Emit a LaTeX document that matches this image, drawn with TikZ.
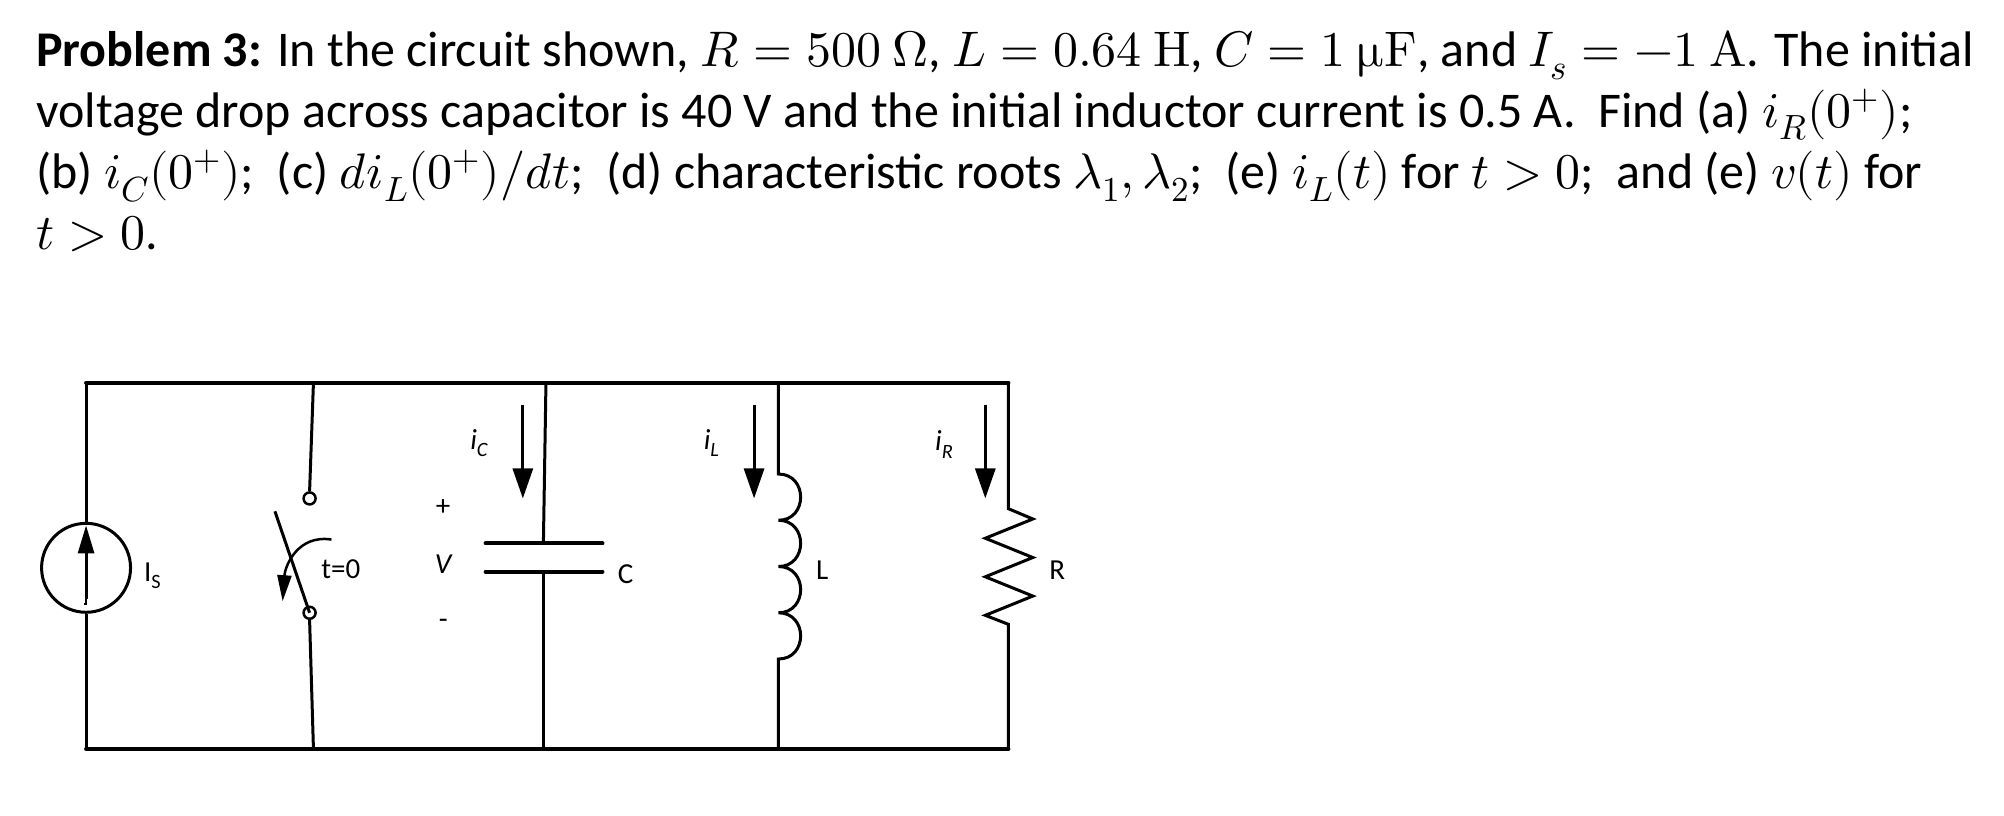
\documentclass[tikz,border=0pt]{standalone}
\usepackage{fontspec}
\usepackage{unicode-math}
\setmainfont{Carlito}
\setmathfont{Latin Modern Math}
\usetikzlibrary{arrows.meta}
\begin{document}
\begin{tikzpicture}[x=1.285pt,y=-1.285pt,
  wire/.style={line width=4pt,line cap=round},
  thin/.style={line width=3pt},
  lab/.style={font=\fontsize{29}{30}\selectfont,inner sep=0pt},
  txt/.style={anchor=base west,inner sep=0pt,font=\fontsize{50}{56}\selectfont},
  curarrow/.style={line width=3pt,-{Triangle[length=30pt,width=20pt]}}]
\useasboundingbox (0,0) rectangle (1560,635);
% text
\node[txt] (t1) at (28,52) {\textbf{Problem 3:} In the circuit shown, $R=500\ \upOmega$, $L=0.64\ \symup{H}$, $C=1\ \upmu\symup{F}$, and $I_s=-1\ \symup{A}$. The initial};
\node[txt] (t2) at (28,99) {voltage drop across capacitor is 40 V and the initial inductor current is 0.5 A.\ \ Find (a) $i_R(0^+)$;};
\node[txt] (t3) at (28,147) {(b) $i_C(0^+)$;\ \ (c) $di_L(0^+)/dt$;\ \ (d) characteristic roots $\lambda_1,\lambda_2$;\ \ (e) $i_L(t)$ for $t>0$;\ \ and (e) $v(t)$ for};
\node[txt] (t4) at (28,194) {$t>0$.};
% frame
\coordinate (TL) at (67,298); \coordinate (TR) at (785,298);
\coordinate (BL) at (67,583); \coordinate (BR) at (785,583);
\draw[wire] (TL) -- (TR); \draw[wire] (BL) -- (BR);
% source
\node[circle,draw,line width=3pt,minimum size=89pt,inner sep=0pt] (src) at (67,442) {};
\draw[thin] (TL) -- (src.north); \draw[thin] (src.south) -- (BL);
\draw[line width=3pt,-{Triangle[length=28pt,width=16pt]}] (67,466) -- (67,409);
\draw[line width=2.5pt] (67,466) -- (67,470) -- (65,470);
\node[lab,anchor=west] (ls) at (112,448) {I\textsubscript{S}};
% switch
\node[circle,draw,line width=2.5pt,minimum size=12pt,inner sep=0pt] (s1) at (241,388) {};
\node[circle,draw,line width=2.5pt,minimum size=12pt,inner sep=0pt] (s2) at (241,477) {};
\draw[thin] (244,298) -- (s1.north); \draw[thin] (s2.south) -- (244,583);
\draw[thin] (214,398) -- (s2.center);
\draw[line width=2.5pt,-{Triangle[length=26pt,width=14pt]}] (258,420) .. controls (232,416) and (222,440) .. (220,468);
\node[lab,anchor=west] (lt) at (250,443) {t=0};
% capacitor
\coordinate (cp1) at (423,423); \coordinate (cp2) at (423,445);
\draw[thin] (425,298) -- (cp1); \draw[thin] (cp2) -- (423,583);
\draw[wire] (378,423) -- (469,423); \draw[wire] (378,445) -- (469,445);
\node[lab] (lC) at (487,447) {C};
\node[lab] (lp) at (345,395) {+};
\node[lab] (lV) at (345,439) {\itshape V};
\node[lab] (lm) at (345,486) {-};
\draw[curarrow] (407,315) -- (407,388);
\node[lab] (lic) at (373,345) {\itshape i\textsubscript{C}};
% inductor
\draw[thin] (606,298) -- (606,369)
  .. controls (629,369) and (629,405) .. (606,405)
  .. controls (629,405) and (629,441) .. (606,441)
  .. controls (629,441) and (629,477) .. (606,477)
  .. controls (629,477) and (629,513) .. (606,513) -- (606,583);
\node[lab] (lL) at (640,444) {L};
\draw[curarrow] (587,315) -- (587,388);
\node[lab] (lil) at (554,345) {\itshape i\textsubscript{L}};
% resistor
\draw[thin,line join=miter] (785,298) -- (785,396) -- (804,404) -- (767,419) -- (804,434) -- (767,449) -- (804,464) -- (767,479) -- (785,486) -- (785,583);
\node[lab] (lR) at (823,444) {R};
\draw[curarrow] (767,315) -- (767,388);
\node[lab] (lir) at (735,346) {\itshape i\textsubscript{R}};
\end{tikzpicture}
\end{document}
